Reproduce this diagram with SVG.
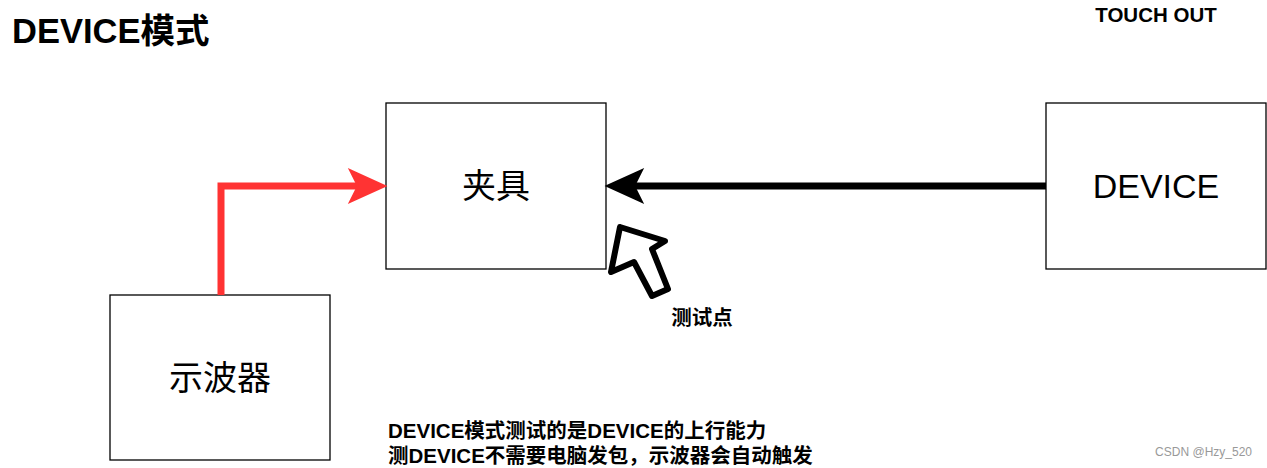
<svg xmlns="http://www.w3.org/2000/svg" width="1267" height="468" viewBox="0 0 1267 468">
<style>
.box{fill:#fff;stroke:#000;stroke-width:1.3}
.lbl{font-family:"Liberation Sans","Noto Sans CJK SC",sans-serif;font-size:34px;text-anchor:middle}
.b{font-family:"Liberation Sans","Noto Sans CJK SC",sans-serif;font-weight:bold}
</style>
<rect width="1267" height="468" fill="#fff"/>
<text class="b" x="12" y="43" font-size="34.5">DEVICE模式</text>
<text class="b" x="1156" y="22" font-size="20.5" text-anchor="middle">TOUCH OUT</text>
<g id="jiaju"><rect class="box" x="386" y="103" width="220" height="166"/><text class="lbl" x="496" y="198">夹具</text></g>
<g id="device"><rect class="box" x="1046" y="103" width="220" height="166"/><text class="lbl" x="1156" y="198">DEVICE</text></g>
<g id="scope"><rect class="box" x="110" y="295" width="220" height="165"/><text class="lbl" x="220" y="390">示波器</text></g>
<g id="connectors">
<path d="M221 295V186H360" fill="none" stroke="#ff3333" stroke-width="7"/>
<path d="M385 186L350 202L358 186L350 170Z" fill="#ff3333" stroke="#ff3333" stroke-width="2"/>
<path d="M1046 186H630" fill="none" stroke="#000" stroke-width="7"/>
<path d="M607 186L642 170L634 186L642 202Z" fill="#000" stroke="#000" stroke-width="2"/>
</g>
<g id="testpoint">
<path d="M620 227L665 241L652 249L668 289L652 296L634 262L611 272Z" fill="#fff" stroke="#000" stroke-width="6" stroke-linejoin="round"/>
<text class="b" x="702" y="325" font-size="20.5" text-anchor="middle">测试点</text>
</g>
<text class="b" x="388" y="438" font-size="20.5">DEVICE模式测试的是DEVICE的上行能力</text>
<text class="b" x="388" y="463" font-size="20.5">测DEVICE不需要电脑发包，示波器会自动触发</text>
<text x="1252" y="456" font-size="12" fill="#999" text-anchor="end" font-family="Liberation Sans,sans-serif">CSDN @Hzy_520</text>
</svg>
